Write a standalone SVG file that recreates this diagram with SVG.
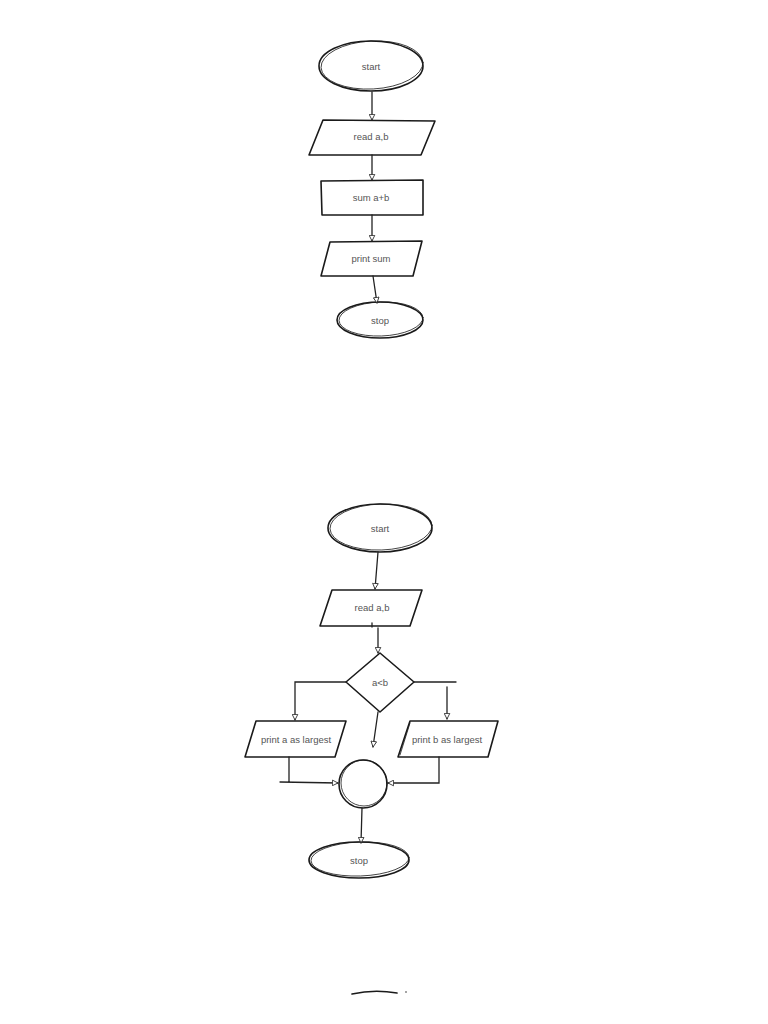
<svg xmlns="http://www.w3.org/2000/svg" width="768" height="1024" viewBox="0 0 768 1024">
<defs>
<marker id="arr" viewBox="0 0 10 10" refX="9" refY="5" markerWidth="7" markerHeight="7" orient="auto-start-reverse" markerUnits="userSpaceOnUse">
<path d="M1,1 L9,5 L1,9 Z" fill="#fff" stroke="#222" stroke-width="1.2"/>
</marker>
</defs>
<style>
.s{fill:none;stroke:#1a1a1a;stroke-width:1.6;stroke-linecap:round;stroke-linejoin:round}
.s2{fill:none;stroke:#1a1a1a;stroke-width:0.8;stroke-linecap:round;stroke-linejoin:round}
.c{fill:none;stroke:#222;stroke-width:1.3;stroke-linecap:round}
.t{font-family:"Liberation Sans",Arial,sans-serif;font-size:9.5px;fill:#555;text-anchor:middle;dominant-baseline:central}
</style>
<rect width="768" height="1024" fill="#fff"/>

<!-- Flowchart 1 -->
<g id="f1-start">
<ellipse class="s" cx="371" cy="66" rx="52" ry="25"/>
<ellipse class="s2" cx="372" cy="65" rx="51" ry="24" transform="rotate(-3 372 65)"/>
<text class="t" x="371" y="66">start</text>
</g>
<g id="f1-read">
<path class="s" d="M323,120 L435,121 L421,155 L309,155 Z"/>
<text class="t" x="371" y="136">read a,b</text>
</g>
<g id="f1-sum">
<path class="s" d="M321,181 L423,180 L423,215 L322,215 Z"/>
<text class="t" x="371" y="197">sum a+b</text>
</g>
<g id="f1-print">
<path class="s" d="M330,242 L422,241 L413,276 L321,276 Z"/>
<text class="t" x="371" y="258">print sum</text>
</g>
<g id="f1-stop">
<ellipse class="s" cx="380" cy="320" rx="43" ry="18"/>
<ellipse class="s2" cx="381" cy="319" rx="42" ry="17" transform="rotate(-2 381 319)"/>
<text class="t" x="380" y="320">stop</text>
</g>

<!-- Flowchart 2 -->
<g id="f2-start">
<ellipse class="s" cx="380" cy="528" rx="52" ry="24"/>
<ellipse class="s2" cx="381" cy="527" rx="51" ry="23" transform="rotate(-2 381 527)"/>
<text class="t" x="380" y="528">start</text>
</g>
<g id="f2-read">
<path class="s" d="M332,590 L422,590 L410,626 L320,626 Z"/>
<text class="t" x="372" y="607">read a,b</text>
</g>
<g id="f2-dec">
<path class="s" d="M380,653 L414,682 L380,712 L346,682 Z"/>
<text class="t" x="380" y="682">a&lt;b</text>
</g>
<g id="f2-printa">
<path class="s" d="M256,721 L346,721 L335,757 L245,757 Z"/>
<text class="t" x="296" y="739">print a as largest</text>
</g>
<g id="f2-printb">
<path class="s" d="M410,721 L498,721 L488,757 L398,757 Z"/>
<path class="s2" d="M410,723 L400,755"/>
<text class="t" x="447" y="739">print b as largest</text>
</g>
<g id="f2-join">
<circle class="s" cx="363" cy="784" r="24"/>
<circle class="s2" cx="364" cy="783" r="23"/>
</g>
<g id="f2-stop">
<ellipse class="s" cx="359" cy="860" rx="50" ry="18"/>
<ellipse class="s2" cx="360" cy="859" rx="49" ry="17" transform="rotate(-2 360 859)"/>
<text class="t" x="359" y="860">stop</text>
</g>
<g id="f3-fragment">
<path class="s" d="M352,994 Q374,989 397,993"/>
<circle cx="406" cy="992" r="0.8" fill="#333"/>
</g>

<!-- Connectors -->
<g id="connectors">
<path class="c" d="M372,92 L372,120" marker-end="url(#arr)"/>
<path class="c" d="M372,155 L372,180" marker-end="url(#arr)"/>
<path class="c" d="M372,215 L372,241" marker-end="url(#arr)"/>
<path class="c" d="M373,276 L377,303" marker-end="url(#arr)"/>

<path class="c" d="M378,552 L375,589" marker-end="url(#arr)"/>
<path class="c" d="M372,623 L372,627"/>
<path class="c" d="M378,628 L378,653" marker-end="url(#arr)"/>
<path class="c" d="M346,682 L295,682 L295,720" marker-end="url(#arr)"/>
<path class="c" d="M414,682 L456,682"/>
<path class="c" d="M447,687 L447,719" marker-end="url(#arr)"/>
<path class="c" d="M378,712 L373,747" marker-end="url(#arr)"/>
<path class="c" d="M289,757 L289,782 M280,782 L338,783" marker-end="url(#arr)"/>
<path class="c" d="M439,757 L439,783 L388,783" marker-end="url(#arr)"/>
<path class="c" d="M362,808 L361,843" marker-end="url(#arr)"/>
</g>
</svg>
